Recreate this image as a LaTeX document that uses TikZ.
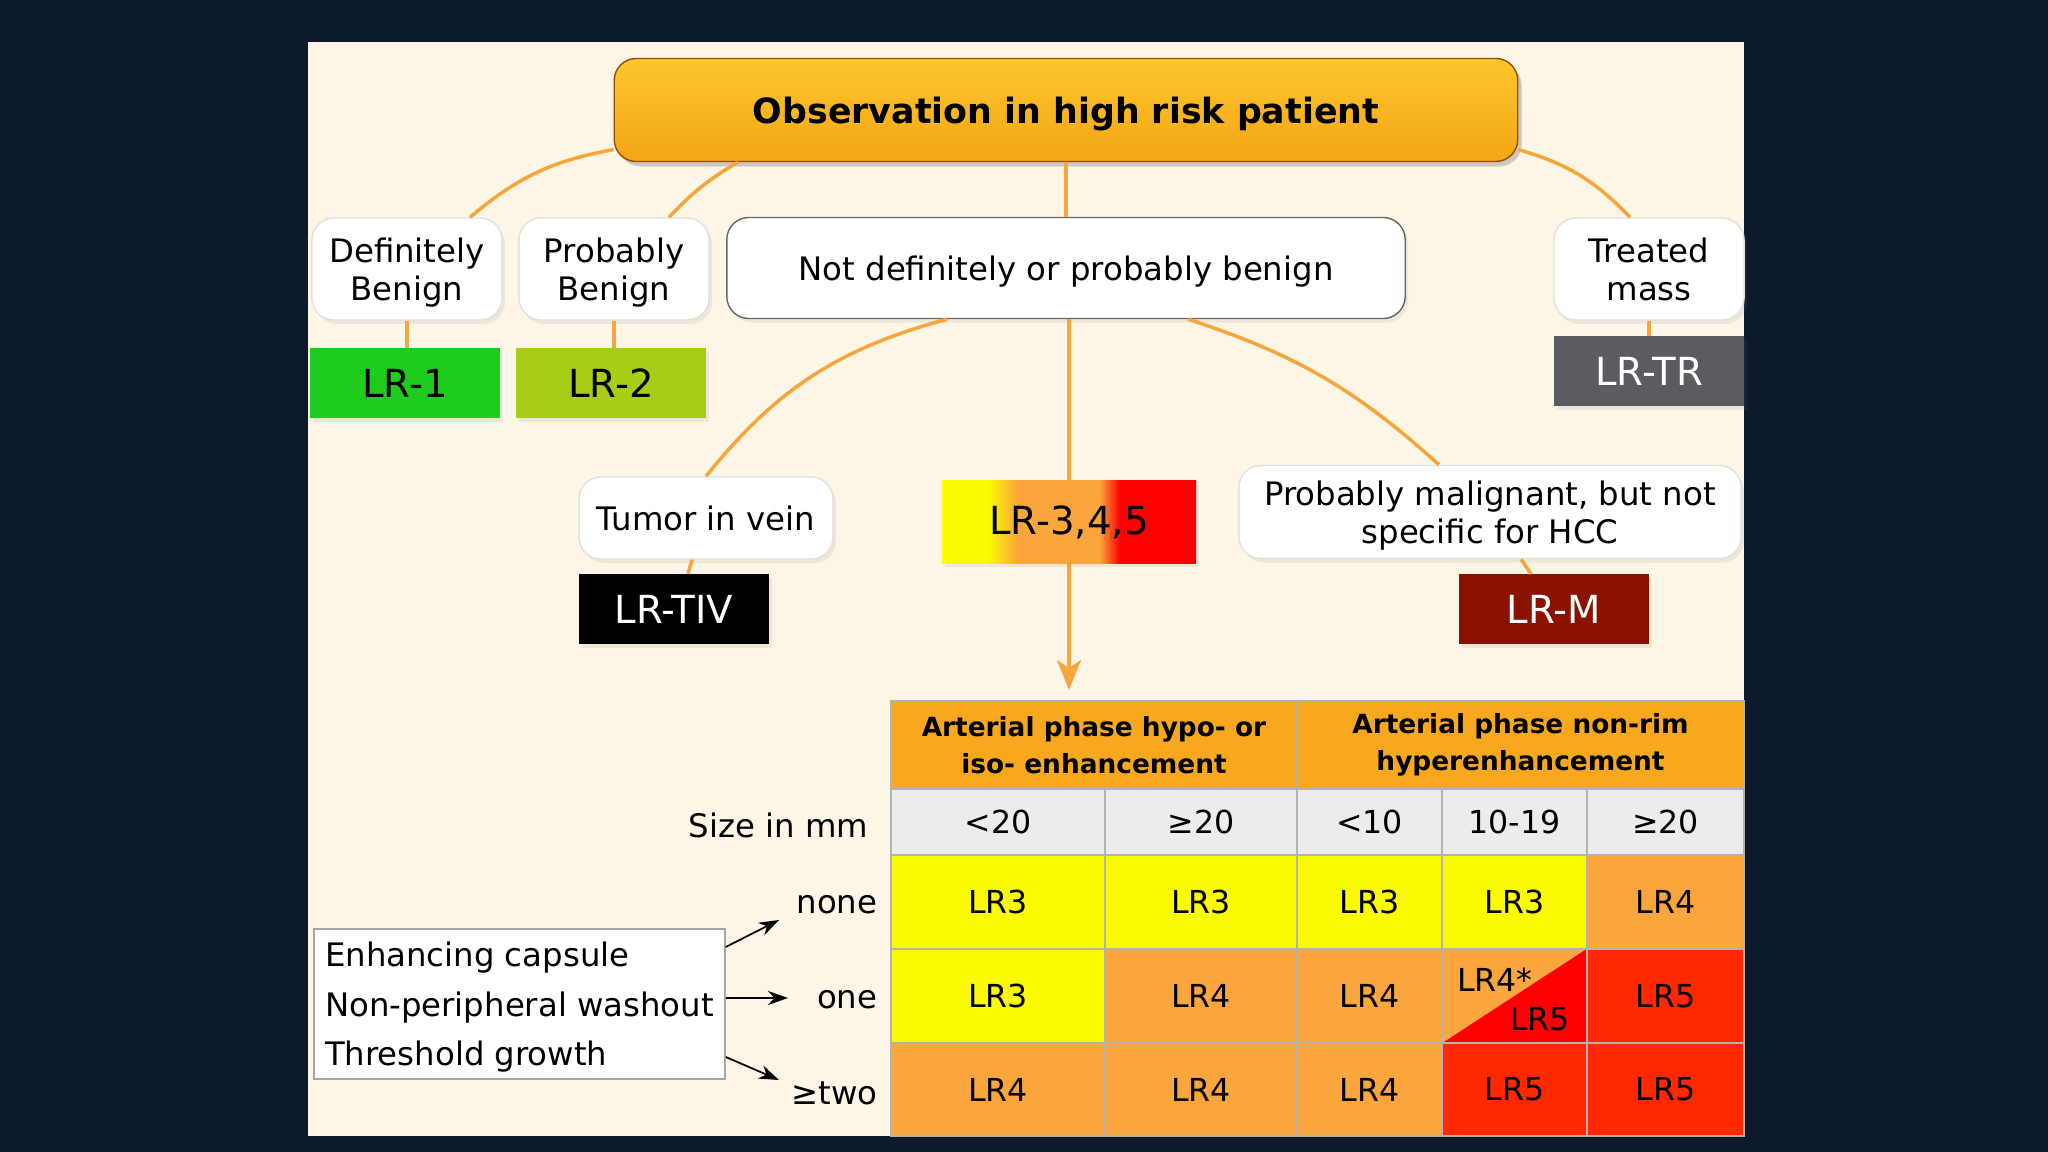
\documentclass[tikz,border=0pt]{standalone}
\usepackage{fontspec}
\setmainfont{DejaVu Sans}
\usetikzlibrary{arrows.meta,shadows}
\definecolor{navy}{RGB}{12,26,44}
\definecolor{cream}{RGB}{253,246,231}
\definecolor{linkorange}{RGB}{246,166,58}
\definecolor{hdrorange}{RGB}{247,168,30}
\definecolor{cellyellow}{RGB}{250,250,0}
\definecolor{cellorange}{RGB}{250,166,60}
\definecolor{cellred}{RGB}{255,40,0}
\definecolor{sizegray}{RGB}{236,236,236}
\definecolor{lrgreen}{RGB}{30,204,30}
\definecolor{lrlime}{RGB}{166,206,22}
\definecolor{lrgray}{RGB}{90,92,98}
\definecolor{lrmaroon}{RGB}{140,18,0}
\pgfdeclarehorizontalshading{lrshade}{100bp}{color(0bp)=(cellyellow); color(34bp)=(cellyellow); color(40bp)=(cellorange); color(56bp)=(cellorange); color(60bp)=(red); color(100bp)=(red)}
\begin{document}
\begin{tikzpicture}[x=0.01cm,y=-0.01cm,
	softshadow/.style={drop shadow={opacity=0.12, shadow xshift=0.03cm, shadow yshift=-0.04cm}},
	bubble/.style={draw=black!12, fill=white, rounded corners=0.22cm, align=center, inner sep=0pt, text depth=0pt, softshadow, font=\fontsize{9.2}{10.8}\selectfont},
	lr/.style={minimum width=1.9cm, minimum height=0.69cm, inner sep=0pt, softshadow, font=\fontsize{11}{13}\selectfont},
	link/.style={draw=linkorange, line width=1pt},
	cell/.style={draw=black!30, line width=0.4pt, inner sep=0pt, font=\fontsize{9}{11}\selectfont},
	hdr/.style={cell, fill=hdrorange, align=center, minimum height=0.88cm, font=\bfseries\fontsize{7.5}{10.4}\selectfont},
	rowlabel/.style={anchor=east, inner sep=0pt, font=\fontsize{9.2}{11}\selectfont},
	blkarrow/.style={-{Stealth[length=0.2cm,width=0.14cm]}, line width=0.5pt}]
	\fill[navy] (0,0) rectangle (2048,1152);
	\fill[cream] (308,42) rectangle (1744,1136);
	\node[bubble, draw=orange!60!black, top color={rgb,255:red,253;green,198;blue,46}, bottom color={rgb,255:red,243;green,166;blue,20}, drop shadow={opacity=0.3, shadow xshift=0.04cm, shadow yshift=-0.05cm}, minimum width=9.03cm, minimum height=1.03cm, font=\bfseries\fontsize{9.9}{12}\selectfont] (obs) at (1066,110) {Observation in high risk patient};
	\node[bubble, minimum width=1.9cm, minimum height=1.02cm] (defb) at (407,269) {Definitely\\Benign};
	\node[bubble, minimum width=1.9cm, minimum height=1.02cm] (probb) at (614,269) {Probably\\Benign};
	\node[bubble, draw=black!60, minimum width=6.78cm, minimum height=1.01cm] (notdef) at (1066,268) {Not definitely or probably benign};
	\node[bubble, minimum width=1.9cm, minimum height=1.02cm] (treat) at (1649,269) {Treated\\mass};
	\node[lr, fill=lrgreen] (lr1) at (405,383) {LR-1};
	\node[lr, fill=lrlime] (lr2) at (611,383) {LR-2};
	\node[lr, fill=lrgray, text=white] (lrtr) at (1649,371) {LR-TR};
	\node[bubble, minimum width=2.54cm, minimum height=0.82cm] (vein) at (706,518) {Tumor in vein};
	\node[lr, shade, shading=lrshade, minimum width=2.54cm, minimum height=0.82cm] (lr345) at (1069,522) {LR-3,4,5};
	\node[bubble, minimum width=5.02cm, minimum height=0.93cm] (malig) at (1490,512) {Probably malignant, but not\\specific for HCC};
	\node[lr, fill=black, text=white] (lrtiv) at (674,609) {LR-TIV};
	\node[lr, fill=lrmaroon, text=white] (lrm) at (1554,609) {LR-M};
	\coordinate (tablein) at (1069,690);
	\draw[link] (obs.185) to[bend right=15] ([xshift=0.63cm]defb.north);
	\draw[link] ([xshift=-3.28cm]obs.south) to[bend right=8] ([xshift=0.55cm]probb.north);
	\draw[link] (obs.south) -- (notdef.north);
	\draw[link] (obs.-5) to[bend left=15] ([xshift=-0.19cm]treat.north);
	\draw[link] (defb.south) -- (defb.south |- lr1.north);
	\draw[link] (probb.south) -- (probb.south |- lr2.north);
	\draw[link] (treat.south) -- (lrtr.north);
	\draw[link] ([xshift=-1.19cm]notdef.south) to[bend right=18] (vein.north);
	\draw[link] (notdef.south -| lr345.north) -- (lr345.north);
	\draw[link] ([xshift=1.22cm]notdef.south) to[bend left=12] ([xshift=-0.51cm]malig.north);
	\draw[link] ([xshift=-0.14cm]vein.south) -- ([xshift=0.14cm]lrtiv.north);
	\draw[link] ([xshift=0.31cm]malig.south) -- ([xshift=-0.23cm]lrm.north);
	\draw[link, -{Stealth[length=0.3cm,width=0.24cm,inset=0.08cm]}] (lr345.south) -- (tablein);
	\node[hdr, minimum width=4.06cm] (hypo) at (1094,745) {Arterial phase hypo- or\\iso- enhancement};
	\node[hdr, minimum width=4.47cm] (hyper) at (1520.5,745) {Arterial phase non-rim\\hyperenhancement};
	\node[cell, fill=sizegray, minimum width=2.14cm, minimum height=0.66cm] (s1) at (998,822) {<20};
	\node[cell, fill=sizegray, minimum width=1.92cm, minimum height=0.66cm] (s2) at (1201,822) {≥20};
	\node[cell, fill=sizegray, minimum width=1.45cm, minimum height=0.66cm] (s3) at (1369.5,822) {<10};
	\node[cell, fill=sizegray, minimum width=1.45cm, minimum height=0.66cm] (s4) at (1514.5,822) {10-19};
	\node[cell, fill=sizegray, minimum width=1.57cm, minimum height=0.66cm] (s5) at (1665.5,822) {≥20};
	\node[cell, fill=cellyellow, minimum width=2.14cm, minimum height=0.94cm] (c11) at (998,902) {LR3};
	\node[cell, fill=cellyellow, minimum width=1.92cm, minimum height=0.94cm] (c21) at (1201,902) {LR3};
	\node[cell, fill=cellyellow, minimum width=1.45cm, minimum height=0.94cm] (c31) at (1369.5,902) {LR3};
	\node[cell, fill=cellyellow, minimum width=1.45cm, minimum height=0.94cm] (c41) at (1514.5,902) {LR3};
	\node[cell, fill=cellorange, minimum width=1.57cm, minimum height=0.94cm] (c51) at (1665.5,902) {LR4};
	\node[cell, fill=cellyellow, minimum width=2.14cm, minimum height=0.94cm] (c12) at (998,996) {LR3};
	\node[cell, fill=cellorange, minimum width=1.92cm, minimum height=0.94cm] (c22) at (1201,996) {LR4};
	\node[cell, fill=cellorange, minimum width=1.45cm, minimum height=0.94cm] (c32) at (1369.5,996) {LR4};
	\node[cell, fill=cellorange, minimum width=1.45cm, minimum height=0.94cm] (c42) at (1514.5,996) {};
	\fill[red] (c42.south west) -- (c42.north east) -- (c42.south east) -- cycle;
	\node[cell, draw=none, fill=none] (c42a) at (1495,980) {LR4*};
	\node[cell, draw=none, fill=none] (c42b) at (1540,1019) {LR5};
	\node[cell, fill=cellred, minimum width=1.57cm, minimum height=0.94cm] (c52) at (1665.5,996) {LR5};
	\node[cell, fill=cellorange, minimum width=2.14cm, minimum height=0.93cm] (c13) at (998,1089.5) {LR4};
	\node[cell, fill=cellorange, minimum width=1.92cm, minimum height=0.93cm] (c23) at (1201,1089.5) {LR4};
	\node[cell, fill=cellorange, minimum width=1.45cm, minimum height=0.93cm] (c33) at (1369.5,1089.5) {LR4};
	\node[cell, fill=cellred, minimum width=1.45cm, minimum height=0.93cm] (c43) at (1514.5,1089.5) {LR5};
	\node[cell, fill=cellred, minimum width=1.57cm, minimum height=0.93cm] (c53) at (1665.5,1089.5) {LR5};
	\node[rowlabel] (size) at (869,825) {Size in mm};
	\node[rowlabel] (none) at (878,905) {none};
	\node[rowlabel] (one) at (878,1000) {one};
	\node[rowlabel] (two) at (878,1093) {≥two};
	\node[draw=black!35, fill=white, align=left, inner sep=0pt, text depth=0pt, minimum width=4.11cm, minimum height=1.5cm, font=\fontsize{9.2}{14.1}\selectfont] (enh) at (519.5,1004) {Enhancing capsule\\Non-peripheral washout\\Threshold growth};
	\coordinate (nonetip) at (779,920);
	\coordinate (onetip) at (788,998);
	\coordinate (twotip) at (779,1080);
	\draw[blkarrow] ([yshift=0.57cm]enh.east) -- (nonetip);
	\draw[blkarrow] ([yshift=0.06cm]enh.east) -- (onetip);
	\draw[blkarrow] ([yshift=-0.53cm]enh.east) -- (twotip);
\end{tikzpicture}
\end{document}
